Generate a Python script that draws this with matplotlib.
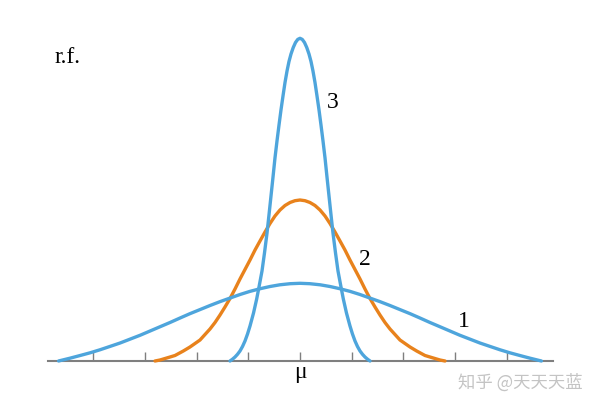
import matplotlib
matplotlib.use("Agg")
import matplotlib.pyplot as plt

# ---- data (x in tick units around mu, y = relative frequency, arbitrary units) ----
# curve 1 (widest)
x1 = [-4.67, -4.45, -4.26, -4.06, -3.87, -3.68, -3.48, -3.29, -3.09, -2.90, -2.71, -2.51, -2.32,
      -2.13, -1.93, -1.74, -1.55, -1.35, -1.16, -0.97, -0.77, -0.58, -0.39, -0.19, 0.00,
      0.19, 0.39, 0.58, 0.77, 0.97, 1.16, 1.35, 1.55, 1.74, 1.93, 2.13, 2.32, 2.51,
      2.71, 2.90, 3.09, 3.29, 3.48, 3.68, 3.87, 4.06, 4.26, 4.45, 4.67]
y1 = [0.000, 0.028, 0.054, 0.082, 0.112, 0.145, 0.180, 0.218, 0.258, 0.300, 0.342, 0.386, 0.430,
      0.473, 0.515, 0.555, 0.593, 0.630, 0.665, 0.696, 0.723, 0.745, 0.762, 0.773, 0.777,
      0.773, 0.762, 0.745, 0.723, 0.696, 0.665, 0.630, 0.593, 0.555, 0.515, 0.473, 0.430, 0.386,
      0.342, 0.300, 0.258, 0.218, 0.180, 0.145, 0.112, 0.082, 0.054, 0.028, 0.000]

# curve 2 (middle)
x2 = [-2.805, -2.708, -2.578, -2.418, -2.257, -2.128, -1.934, -1.741, -1.644, -1.547, -1.451, -1.354,
      -1.257, -1.161, -1.064, -0.967, -0.870, -0.774, -0.677, -0.580, -0.484, -0.387, -0.290, -0.193,
      -0.097, 0.000,
      0.097, 0.193, 0.290, 0.387, 0.484, 0.580, 0.677, 0.774, 0.870, 0.967, 1.064, 1.161, 1.257,
      1.354, 1.451, 1.547, 1.644, 1.741, 1.934, 2.128, 2.257, 2.418, 2.578, 2.708, 2.805]
y2 = [0.000, 0.010, 0.030, 0.055, 0.100, 0.140, 0.210, 0.320, 0.385, 0.460, 0.540, 0.625,
      0.720, 0.820, 0.915, 1.010, 1.110, 1.200, 1.290, 1.375, 1.450, 1.510, 1.555, 1.585,
      1.603, 1.610,
      1.603, 1.585, 1.555, 1.510, 1.450, 1.375, 1.290, 1.200, 1.110, 1.010, 0.915, 0.820, 0.720,
      0.625, 0.540, 0.460, 0.385, 0.320, 0.210, 0.140, 0.100, 0.055, 0.030, 0.010, 0.000]

# curve 3 (narrowest)
x3 = [-1.354, -1.306, -1.257, -1.209, -1.161, -1.112, -1.064, -1.015, -0.967, -0.899, -0.838, -0.793,
      -0.735, -0.687, -0.638, -0.600, -0.561, -0.522, -0.484, -0.445, -0.406, -0.368, -0.329, -0.290,
      -0.251, -0.213, -0.174, -0.1306, -0.087, -0.0435, 0.000,
      0.0435, 0.087, 0.1306, 0.174, 0.213, 0.251, 0.290, 0.329, 0.368, 0.406, 0.445, 0.484, 0.522,
      0.561, 0.600, 0.638, 0.687, 0.735, 0.793, 0.838, 0.899, 0.967, 1.015, 1.064, 1.112, 1.161,
      1.209, 1.257, 1.306, 1.354]
y3 = [0.000, 0.018, 0.040, 0.067, 0.100, 0.145, 0.200, 0.270, 0.350, 0.480, 0.620, 0.740,
      0.900, 1.080, 1.280, 1.460, 1.650, 1.840, 2.030, 2.200, 2.360, 2.510, 2.650, 2.785,
      2.900, 2.995, 3.070, 3.135, 3.185, 3.216, 3.227,
      3.216, 3.185, 3.135, 3.070, 2.995, 2.900, 2.785, 2.650, 2.510, 2.360, 2.200, 2.030, 1.840,
      1.650, 1.460, 1.280, 1.080, 0.900, 0.740, 0.620, 0.480, 0.350, 0.270, 0.200, 0.145, 0.100,
      0.067, 0.040, 0.018, 0.000]

tick_positions = [-4, -3, -2, -1, 0, 1, 2, 3, 4]
curve_labels = ["1", "2", "3"]

BLUE = "#4ea5dc"
ORANGE = "#e8821c"
GREY = "#7f7f7f"

fig = plt.figure(figsize=(6.0, 4.07), dpi=100)
ax = fig.add_axes([0, 0, 1, 1])
ax.set_xlim(-5.803, 5.803)
ax.set_ylim(-0.46, 3.61)
ax.axis("off")

# baseline axis and ticks
ax.axhline(0, xmin=0.08, xmax=0.9217, color=GREY, lw=1.5, zorder=1)
ax.vlines(tick_positions, 0, 0.09, color=GREY, lw=1.0, zorder=1)

# curves
style = dict(lw=2.4, solid_capstyle="round", solid_joinstyle="round")
ax.plot(x1, y1, color=BLUE, zorder=3, **style)
ax.plot(x2, y2, color=ORANGE, zorder=2, **style)
ax.plot(x3, y3, color=BLUE, zorder=3, **style)

serif = ["Liberation Serif", "DejaVu Serif"]
ax.text(-4.74, 2.98, "r.f.", family=serif, fontsize=17, ha="left", va="baseline")
ax.text(3.17, 0.34, curve_labels[0], family=serif, fontsize=17, ha="center", va="baseline")
ax.text(1.257, 0.96, curve_labels[1], family=serif, fontsize=17, ha="center", va="baseline")
ax.text(0.638, 2.53, curve_labels[2], family=serif, fontsize=17, ha="center", va="baseline")
ax.text(0.0, -0.17, "μ", family=serif, fontsize=17, ha="center", va="baseline")

ax.text(4.27, -0.22, "知乎 @天天天蓝", family=["Noto Sans CJK SC", "DejaVu Sans"],
        fontsize=12.5, color="#c4c4c4", ha="center", va="center")

fig.savefig("out.png", dpi=100)
